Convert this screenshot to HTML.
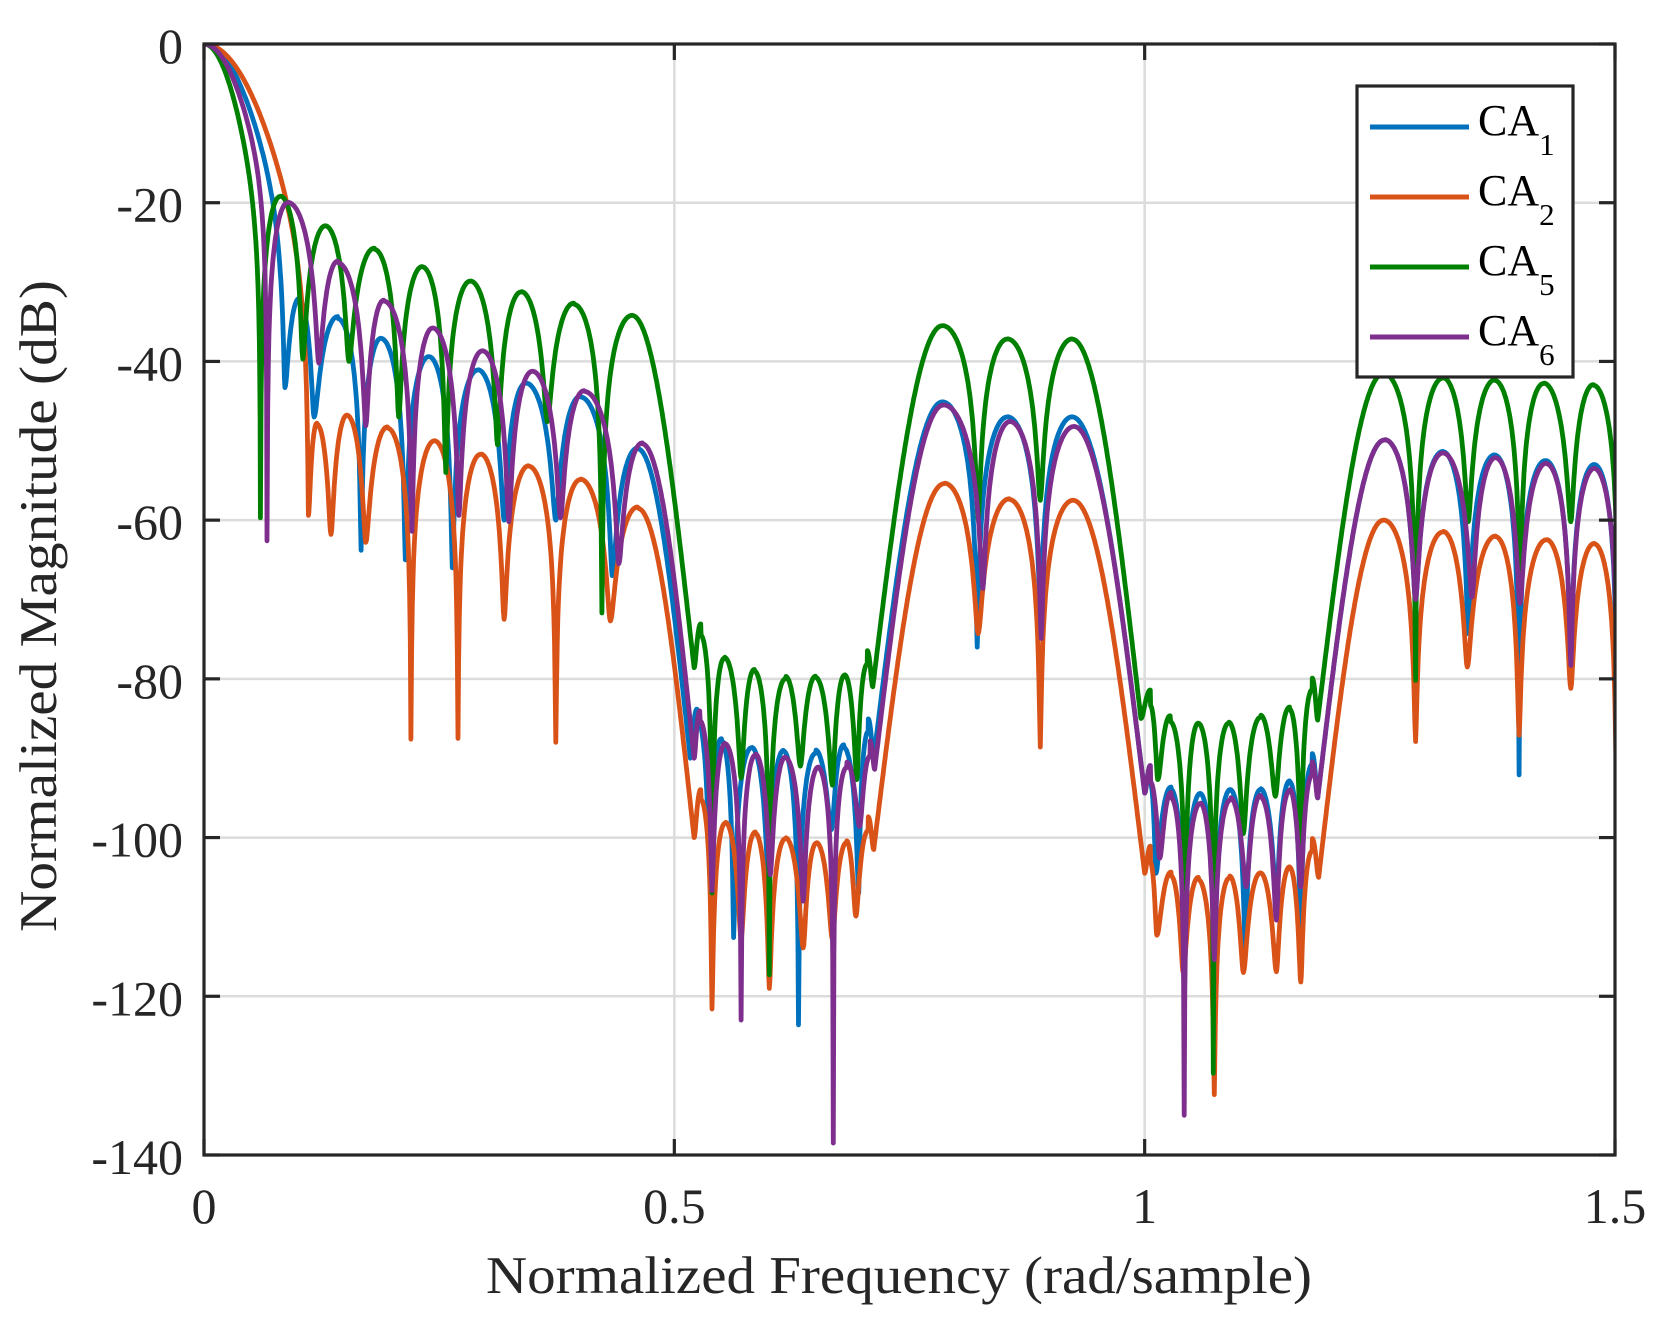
<!DOCTYPE html>
<html><head><meta charset="utf-8">
<style>
html,body{margin:0;padding:0;background:#fff;}
svg{display:block;font-family:"Liberation Serif","Times New Roman",serif;}
</style></head>
<body>
<svg id="s" width="1666" height="1328" viewBox="0 0 1666 1328" xmlns="http://www.w3.org/2000/svg">
<defs><clipPath id="cp"><rect x="204" y="44" width="1411" height="1111"/></clipPath></defs>
<rect x="0" y="0" width="1666" height="1328" fill="#fff"/>
<g id="grid" stroke="#dcdcdc" stroke-width="2.5"></g>
<g id="series" clip-path="url(#cp)" fill="none" stroke-width="4.8" stroke-linejoin="round"></g>
<g id="axes" stroke="#262626" stroke-width="3.2" fill="none"></g>
<g id="labels" fill="#262626" font-size="50"></g>
<text x="899" y="1293" font-size="53" fill="#262626" text-anchor="middle" textLength="826" lengthAdjust="spacingAndGlyphs">Normalized Frequency (rad/sample)</text>
<text transform="translate(56,606) rotate(-90)" font-size="53" fill="#262626" text-anchor="middle" textLength="652" lengthAdjust="spacingAndGlyphs">Normalized Magnitude (dB)</text>
<g id="legend">
<rect x="1357" y="86" width="216" height="291" fill="#fff" stroke="#262626" stroke-width="3.2"/>
<line x1="1370" y1="127" x2="1469" y2="127" stroke="#0072BD" stroke-width="5"/>
<line x1="1370" y1="197" x2="1469" y2="197" stroke="#D95319" stroke-width="5"/>
<line x1="1370" y1="267" x2="1469" y2="267" stroke="#008000" stroke-width="5"/>
<line x1="1370" y1="337" x2="1469" y2="337" stroke="#7E2F8E" stroke-width="5"/>
<g font-size="44" fill="#000">
<text x="1478" y="135">CA<tspan font-size="31" dy="20">1</tspan></text>
<text x="1478" y="205">CA<tspan font-size="31" dy="20">2</tspan></text>
<text x="1478" y="275">CA<tspan font-size="31" dy="20">5</tspan></text>
<text x="1478" y="345">CA<tspan font-size="31" dy="20">6</tspan></text>
</g>
</g>
</svg>
<script>
(function(){
var NS="http://www.w3.org/2000/svg";
var L=204,R=1615,T=44,B=1155;
function X(x){return L+x*(R-L)/1.5;}
function Y(d){return T-d*(B-T)/140;}
function el(p,tag,at,txt){var e=document.createElementNS(NS,tag);for(var k in at)e.setAttribute(k,at[k]);if(txt!=null)e.textContent=txt;p.appendChild(e);return e;}
var grid=document.getElementById('grid'),axes=document.getElementById('axes'),lab=document.getElementById('labels');
[0.5,1].forEach(function(v){el(grid,'line',{x1:X(v),y1:T,x2:X(v),y2:B});});
for(var d=-20;d>=-120;d-=20)el(grid,'line',{x1:L,y1:Y(d),x2:R,y2:Y(d)});
el(axes,'rect',{x:L,y:T,width:R-L,height:B-T});
var tl=16;
[0,0.5,1,1.5].forEach(function(v){var x=X(v);el(axes,'line',{x1:x,y1:B,x2:x,y2:B-tl});el(axes,'line',{x1:x,y1:T,x2:x,y2:T+tl});
 el(lab,'text',{x:x,y:1223,'text-anchor':'middle'},String(v));});
for(var d=0;d>=-140;d-=20){var y=Y(d);el(axes,'line',{x1:L,y1:y,x2:L+tl,y2:y});el(axes,'line',{x1:R,y1:y,x2:R-tl,y2:y});
 el(lab,'text',{x:183,y:y+19,'text-anchor':'end'},String(d));}

function build(main,lobes){
 // main: [w, nullX, nullDb]
 var w=main[0],nx=main[1],nd=main[2],pts=[];
 var An=Math.pow(10,nd/20);
 for(var j=0;j<=160;j++){var x=nx*j/160;var u=x/nx;
  var a=Math.exp(-(x/w)*(x/w))*(1-Math.pow(u,12));
  pts.push([x,20*Math.log10(Math.sqrt(a*a+An*An))]);}
 var nodes=[[nx,nd]].concat(lobes);
 for(var i=0;i<nodes.length-1;i++){
  var a=nodes[i],b=nodes[i+1];var rising=(i%2===0);
  var P=rising?b:a,N=rising?a:b;var mode=(P[2]||'aa')[rising?0:1];
  var n=Math.max(24,Math.round((b[0]-a[0])*1400));
  for(var j=1;j<=n;j++){var x=a[0]+(b[0]-a[0])*j/n;
   var t=rising?(x-a[0])/(b[0]-a[0]):(b[0]-x)/(b[0]-a[0]);
   var v;
   if(mode==='l'){v=N[1]+(P[1]-N[1])*Math.sin(Math.PI/2*t);}
   else{var Ap=Math.pow(10,P[1]/20),An2=Math.pow(10,N[1]/20),s=Ap*Math.sin(Math.PI/2*t);v=20*Math.log10(Math.sqrt(s*s+An2*An2));}
   pts.push([x,v]);}
 }
 return pts;}

var S={
blue:{c:'#0072BD',main:[.0499,.086,-43.3],
 l:[[.101,-32.4],[.117,-47],[.142,-34.6],[.167,-63.8],[.188,-37.1],[.214,-65],[.239,-39.4],[.264,-66],[.291,-41.1],[.319,-60],[.342,-42.8],[.374,-60],[.400,-44.5],[.434,-67],[.461,-51,'al'],
 [.517,-90],[.524,-85],[.537,-100],[.550,-87.8],[.563,-112.6],[.582,-88.7],[.600,-106],[.616,-89.1],[.632,-123.6],[.650,-89.4],[.667,-99],[.680,-88.7],[.696,-107],[.706,-86.7],[.712,-90],
 [.785,-45.1,'la'],[.822,-76],[.854,-47],[.889,-70],[.923,-47,'al'],
 [1.000,-94.4],[1.006,-93.5],[1.012,-104.5],[1.028,-94],[1.042,-113],[1.059,-94.5],[1.074,-113],[1.091,-94],[1.107,-114.6],[1.123,-94],[1.14,-108],[1.154,-93],[1.166,-112.3],[1.178,-90.8],[1.184,-95],
 [1.255,-49.9,'la'],[1.288,-70],[1.317,-51.4],[1.344,-74.3],[1.372,-51.8],[1.398,-92.1],[1.426,-52.5],[1.453,-77],[1.478,-53],[1.502,-85]]},
orange:{c:'#D95319',main:[.0588,.111,-59.4],
 l:[[.120,-48.1],[.135,-61.8],[.152,-46.9],[.172,-62.8],[.195,-48.4],[.220,-87.6],[.245,-50],[.270,-87.5],[.294,-51.7],[.319,-72.5],[.345,-53.2],[.374,-88],[.400,-54.9],[.432,-72.7],[.461,-58.5,'al'],
 [.521,-100],[.528,-95.2],[.540,-121.6],[.554,-98.2],[.571,-112.8],[.586,-99.5],[.601,-119],[.618,-100.2],[.637,-113.9],[.651,-100.9],[.668,-112.8],[.683,-100.9],[.693,-109.9],[.706,-99.5],[.712,-101.5],
 [.787,-55.4,'la'],[.823,-74.3],[.856,-57.4],[.889,-88.6],[.924,-57.5,'al'],
 [1.000,-104.5],[1.006,-103.7],[1.013,-112.3],[1.028,-105.1],[1.041,-117],[1.057,-105.3],[1.074,-132.4],[1.090,-105.1],[1.105,-117],[1.123,-104.7],[1.14,-116.9],[1.154,-103.9],[1.166,-118.2],[1.178,-101.8],[1.185,-105],
 [1.254,-60,'la'],[1.288,-87.9],[1.317,-61.5],[1.343,-78.5],[1.373,-62.1],[1.398,-87.1],[1.427,-62.5],[1.453,-81.2],[1.478,-63],[1.5013,-92]]},
green:{c:'#008000',main:[.0354,.060,-59.7],
 l:[[.081,-19.2],[.105,-39.7],[.129,-23],[.154,-40],[.181,-25.9],[.207,-47],[.232,-28.1],[.257,-54],[.283,-29.9],[.312,-50.5],[.337,-31.3],[.365,-47.6],[.393,-32.8],[.423,-71.7],[.455,-34.2,'al'],
 [.521,-78.6],[.528,-74.5],[.540,-107],[.553,-77.4],[.571,-92.5],[.585,-79],[.601,-117.3],[.618,-80],[.634,-91],[.650,-80],[.668,-93.4],[.681,-79.7],[.694,-92.7],[.705,-78.3],[.711,-81],
 [.785,-35.5,'la'],[.823,-60],[.854,-37.2],[.889,-57.5],[.923,-37.2,'al'],
 [.996,-85],[1.006,-83.9],[1.014,-92.7],[1.027,-85.4],[1.043,-107.4],[1.057,-85.6],[1.073,-129.7],[1.089,-85.6],[1.105,-99.5],[1.123,-85],[1.139,-94.8],[1.154,-83.9],[1.166,-101],[1.178,-81.4],[1.184,-85.2],
 [1.254,-41.5,'la'],[1.288,-80.2],[1.317,-42.1],[1.344,-60.2],[1.372,-42.4],[1.399,-66.7],[1.424,-42.8],[1.453,-60.2],[1.477,-43],[1.5034,-75]]},
purple:{c:'#7E2F8E',main:[.0436,.067,-62.6],
 l:[[.089,-20],[.122,-40.2],[.142,-27.6],[.172,-48.1],[.191,-32.4],[.221,-61.4],[.243,-35.8],[.271,-59.4],[.296,-38.7],[.324,-60.2],[.349,-41.3],[.379,-59.7],[.404,-43.8],[.441,-65.5],[.466,-50.4,'al'],
 [.521,-90],[.527,-85.3],[.540,-106.7],[.554,-88.2],[.571,-123],[.586,-89.6],[.602,-104.7],[.618,-90],[.637,-108],[.653,-91.2],[.669,-138.5],[.683,-91.2],[.697,-98.6],[.708,-90.3],[.713,-91.4],
 [.786,-45.5,'la'],[.828,-68.6],[.857,-47.6],[.890,-74.9],[.925,-48.2,'al'],
 [1.000,-94.4],[1.006,-93.5],[1.016,-102.6],[1.028,-95],[1.042,-135],[1.059,-95.7],[1.074,-115.4],[1.091,-95.3],[1.108,-106.2],[1.123,-95],[1.14,-110.4],[1.154,-94.2],[1.166,-106.2],[1.178,-92.3],[1.184,-95],
 [1.255,-49.9,'la'],[1.288,-70],[1.317,-51.6],[1.348,-69.7],[1.373,-52.2],[1.399,-70.5],[1.427,-52.9],[1.453,-78.3],[1.478,-53.5],[1.5027,-82]]}
};
var g=document.getElementById('series');
['blue','orange','green','purple'].forEach(function(k){
 var s=S[k],pts=build(s.main,s.l),d='';
 pts.forEach(function(p,i){d+=(i?'L':'M')+X(p[0]).toFixed(1)+' '+Y(Math.max(p[1],-150)).toFixed(1);});
 el(g,'path',{d:d,stroke:s.c});
});
})();
</script>
</body></html>
